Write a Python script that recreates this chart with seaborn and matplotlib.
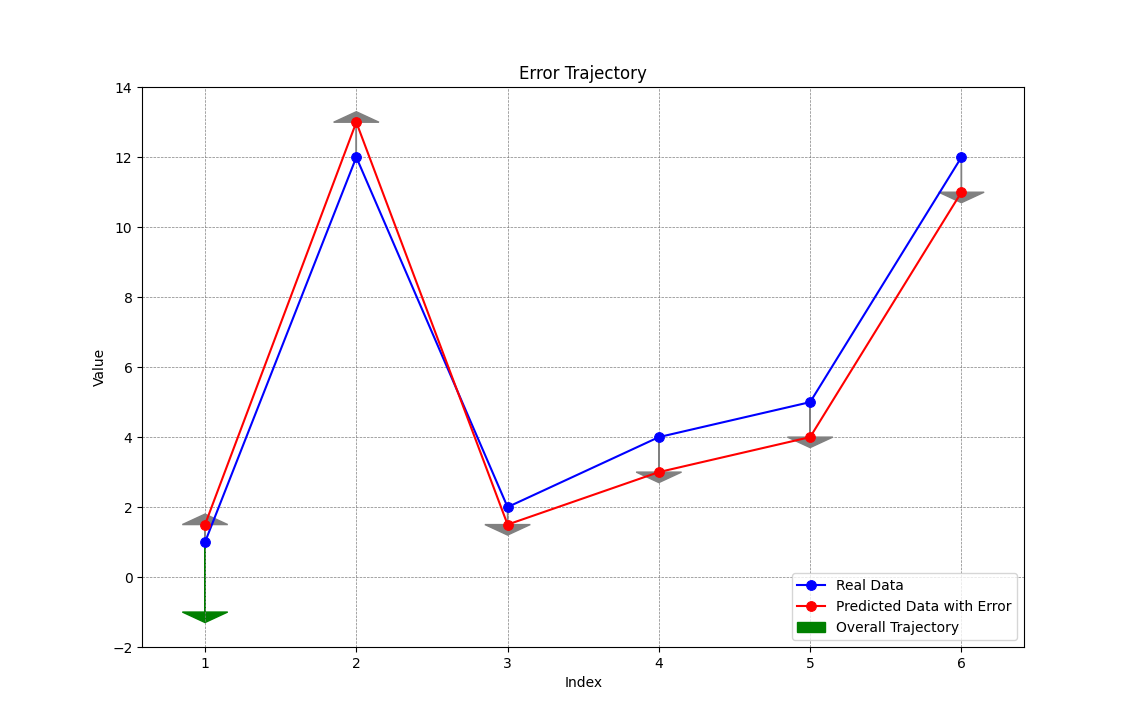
import matplotlib
matplotlib.use("Agg")
import matplotlib.pyplot as plt
import seaborn as sns
import numpy as np

index = [1, 2, 3, 4, 5, 6]
real = [1, 12, 2, 4, 5, 12]
predicted = [1.5, 13, 1.5, 3, 4, 11]
overall_dy = -2

fig, ax = plt.subplots(figsize=(11.38, 7.27), dpi=100)
sns.lineplot(x=index, y=real, marker='o', color='blue', label='Real Data', ax=ax,
             markeredgecolor='blue', markersize=7, linewidth=1.5)
sns.lineplot(x=index, y=predicted, marker='o', color='red', label='Predicted Data with Error', ax=ax,
             markeredgecolor='red', markersize=7, linewidth=1.5)
for xi, r, p in zip(index, real, predicted):
    ax.arrow(xi, r, 0, p - r, head_width=0.3, head_length=0.3, fc='gray', ec='gray')
ax.arrow(index[0], real[0], 0, overall_dy, head_width=0.3, head_length=0.3,
         fc='green', ec='green', label='Overall Trajectory')
ax.set_ylim(-2, 14)
ax.set_title('Error Trajectory')
ax.set_xlabel('Index')
ax.set_ylabel('Value')
ax.grid(True, color='gray', linestyle='--', linewidth=0.5)
ax.legend(loc='lower right')
fig.savefig('out.png', dpi=100)
